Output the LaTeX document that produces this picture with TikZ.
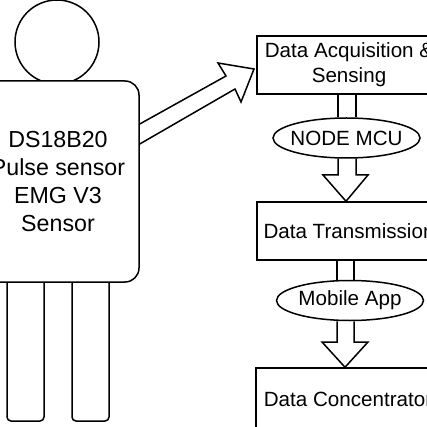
\documentclass[tikz,border=0pt]{standalone}
\usepackage{fontspec}
\setmainfont{Liberation Sans}
\usepackage{tikz}
\usetikzlibrary{shapes.geometric}

\begin{document}
\begin{tikzpicture}[x=1pt, y=-1pt, line width=1.5pt, line join=miter,
    part/.style={draw, fill=white, inner sep=0pt},
    torso/.style={part, rounded corners=14pt, minimum width=162pt, minimum height=201pt,
                  align=center, font=\fontsize{23.2}{28}\selectfont},
    limb/.style={part, rounded corners=4pt, minimum width=37pt, minimum height=150pt},
    stage/.style={part, minimum width=184pt, minimum height=58pt,
                  align=center, font=\fontsize{20.6}{25}\selectfont},
    link/.style={part, ellipse, inner xsep=-8pt, minimum width=147pt, minimum height=40pt,
                 font=\fontsize{20.6}{25}\selectfont}]
\useasboundingbox (0,0) rectangle (427,427);
\clip (0,0) rectangle (427,427);
% person
\node[part, circle, minimum size=84pt] (head) at (57,42) {};
\node[limb] (legl) at (25.5,346) {};
\node[limb] (legr) at (90.5,346) {};
\node[torso] (body) at (58,181.5) {DS18B20\\Pulse sensor\\EMG V3\\Sensor};
% stages
\node[stage] (acq) at (349,65) {Data Acquisition \&\\Sensing};
\node[stage] (trans) at (349,231) {Data Transmission};
\node[stage, minimum height=62pt] (conc) at (348,399) {Data Concentrator};
\node[link] (mcu) at (346.5,138) {NODE MCU};
\node[link] (app) at (350,300.5) {Mobile App};
% block arrows
\coordinate (armtip) at (254,69);
\draw (body.east |- 0,124) -- (226,76) -- (218,63) -- (armtip) -- (241,102) -- (235,89) -- (body.east |- 0,144);
\foreach \up/\mid/\down/\sl/\sr/\hl/\hr/\hy/\tip in {acq/mcu/trans/338/356/323/368/175/346,
                                                     trans/app/conc/337/354/322/368/342/345} {
  \draw (\sl,0 |- \up.south) -- (\sl,0 |- \mid.north);
  \draw (\sr,0 |- \up.south) -- (\sr,0 |- \mid.north);
  \draw (\sl,0 |- \mid.south) -- (\sl,\hy) -- (\hl,\hy) -- (\tip,0 |- \down.north)
        -- (\hr,\hy) -- (\sr,\hy) -- (\sr,0 |- \mid.south);
}
\end{tikzpicture}
\end{document}
